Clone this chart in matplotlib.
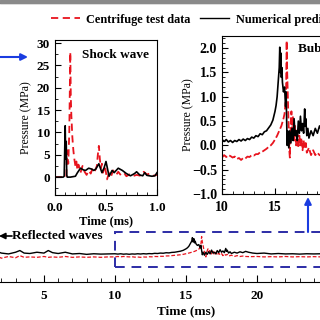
import matplotlib
matplotlib.use("Agg")
import matplotlib.pyplot as plt
from matplotlib.patches import Rectangle
from matplotlib.ticker import MultipleLocator

plt.rcParams['font.family'] = ['Liberation Serif', 'DejaVu Serif']
plt.rcParams['font.weight'] = 'bold'

# ---------------- data ----------------
# Shock wave (0-1 ms)
shock_t_num = [0.0, 0.08, 0.09, 0.10, 0.105, 0.11, 0.115, 0.12, 0.15, 0.2, 0.22, 0.25, 0.28, 0.3, 0.33,
               0.36, 0.38, 0.4, 0.43, 0.46, 0.48, 0.5, 0.53, 0.56, 0.58, 0.62, 0.66, 0.7, 0.74, 0.78,
               0.8, 0.83, 0.86, 0.88, 0.9, 0.95, 0.98, 1.0]
shock_num = [0.0, 0.0, 0.2, 11.5, 4.0, 8.0, 0.5, 0.0, 0.0, 0.2, 1.0, 2.0, 1.6, 1.5, 2.0,
             1.8, 1.5, 1.8, 3.0, 1.0, 2.0, 3.5, 0.2, 1.5, 1.0, 2.0, 1.5, 0.8, 0.3, 0.8,
             1.2, 0.5, 0.3, 1.0, 0.4, 0.2, 0.3, 1.0]
shock_t_test = [0.0, 0.11, 0.12, 0.13, 0.14, 0.15, 0.155, 0.16, 0.17, 0.18, 0.19, 0.2, 0.21, 0.22,
                0.23, 0.25, 0.27, 0.29, 0.31, 0.33, 0.35, 0.37, 0.39, 0.41, 0.42, 0.43, 0.44, 0.45,
                0.46, 0.47, 0.49, 0.51, 0.53, 0.55, 0.57, 0.6, 0.62, 0.65, 0.68, 0.7, 0.73, 0.76,
                0.8, 0.84, 0.87, 0.9, 0.93, 0.96, 1.0]
shock_test = [0.0, 0.0, 6.0, 3.0, 10.0, 28.0, 18.0, 14.0, 9.0, 6.0, 4.0, 2.5, 3.5, 1.5,
              2.8, 1.0, 2.5, 1.2, 0.5, 1.5, 0.8, 2.0, 1.3, 2.5, 5.0, 7.0, 4.0, 2.0,
              3.0, 1.0, 2.5, -0.5, 1.0, 0.2, 1.5, 0.5, 1.2, 0.3, 0.8, 0.2, 0.6, 0.2,
              0.5, 0.3, 1.2, 0.6, 0.8, 0.3, 0.5]

# Reflected waves (1-10 ms)
refl_t = [1.0, 1.5, 2.0, 2.5, 3.0, 3.3, 3.6, 4.0, 4.5, 5.0, 5.3, 5.6, 6.0, 6.5, 7.0, 7.5, 8.0, 8.5, 9.0, 9.5]
refl_num = [0.8, 0.5, 0.2, 0.1, 0.3, 0.5, 0.2, 0.15, 0.3, 0.2, 0.5, 0.25, 0.15, 0.3, 0.1, 0.15, 0.05, 0.12, 0.08, 0.1]
refl_test = [0.5, 0.0, -0.4, -0.2, -0.35, -0.1, -0.3, -0.25, -0.3, -0.2, -0.3, -0.25, -0.3, -0.2, -0.3,
             -0.25, -0.3, -0.25, -0.3, -0.25]

# Bubble pulse (10-25 ms)
bub_t_num = [10.0, 10.2, 10.4, 10.6, 10.8, 11.0, 11.2, 11.4, 11.6, 11.8, 12.0, 12.2, 12.4, 12.6, 12.8,
             13.0, 13.2, 13.4, 13.6, 13.8, 14.0, 14.2, 14.4, 14.6, 14.8, 15.0, 15.1, 15.2, 15.3, 15.4,
             15.45, 15.5, 15.55, 15.6, 15.65, 15.7, 15.8, 15.9, 16.0, 16.05, 16.1, 16.15, 16.2, 16.3,
             16.4, 16.5, 16.6, 16.7, 16.8, 16.9, 17.0, 17.1, 17.2, 17.3, 17.4, 17.5, 17.6, 17.7, 17.8,
             17.85, 17.9, 18.0, 18.1, 18.2, 18.4, 18.6, 18.8, 19.0, 19.2, 19.4, 19.7, 20.0, 20.5, 21.0,
             21.5, 22.0, 22.5, 23.0, 23.5, 24.0, 24.5, 25.0]
bub_num = [0.12, 0.08, 0.12, 0.07, 0.1, 0.06, 0.1, 0.08, 0.12, 0.09, 0.13, 0.1, 0.14, 0.12, 0.17,
           0.15, 0.2, 0.18, 0.24, 0.22, 0.28, 0.3, 0.36, 0.42, 0.52, 0.7, 0.82, 1.0, 1.3, 1.6,
           2.02, 1.5, 1.9, 1.4, 1.6, 1.3, 1.1, 1.2, 0.8, 1.1, 0.5, 0.0, 0.3, -0.05,
           0.3, 0.05, 0.35, 0.1, 0.55, 0.2, 0.3, 0.1, 0.5, 0.25, 0.6, 0.3, 0.45, 0.25, 0.75,
           0.4, 0.55, 0.2, 0.35, 0.15, 0.3, 0.2, 0.35, 0.25, 0.4, 0.3, 0.2, 0.15, 0.2, 0.1,
           0.15, 0.1, 0.12, 0.08, 0.12, 0.1, 0.12, 0.1]
bub_t_test = [10.0, 10.2, 10.4, 10.6, 10.8, 11.0, 11.2, 11.4, 11.6, 11.8, 12.0, 12.2, 12.4, 12.6, 12.8,
              13.0, 13.2, 13.4, 13.6, 13.8, 14.0, 14.2, 14.4, 14.6, 14.8, 15.0, 15.2, 15.4, 15.6, 15.8,
              15.9, 16.0, 16.05, 16.1, 16.15, 16.2, 16.25, 16.3, 16.35, 16.4, 16.45, 16.5, 16.55, 16.6,
              16.7, 16.8, 16.9, 17.0, 17.1, 17.2, 17.3, 17.4, 17.5, 17.6, 17.7, 17.8, 17.9, 18.0, 18.2,
              18.4, 18.6, 18.8, 19.0, 19.2, 19.5, 20.0, 20.5, 21.0, 21.5, 22.0, 22.5, 23.0, 23.5, 24.0,
              24.5, 25.0]
bub_test = [-0.25, -0.2, -0.24, -0.2, -0.22, -0.25, -0.23, -0.28, -0.26, -0.3, -0.26, -0.27, -0.23, -0.24, -0.2,
            -0.21, -0.18, -0.18, -0.14, -0.13, -0.1, -0.07, -0.03, 0.0, 0.05, 0.12, 0.2, 0.3, 0.4, 0.55,
            0.65, 0.9, 1.2, 2.15, 1.5, 1.1, 0.7, 0.3, -0.1, -0.25, 0.2, 0.5, 0.7, 0.3,
            0.6, 0.1, 0.4, 0.0, 0.3, -0.05, 0.2, 0.0, 0.15, -0.1, 0.1, -0.05, 0.05, -0.15, -0.05,
            -0.2, -0.1, -0.2, -0.15, -0.2, -0.22, -0.2, -0.25, -0.22, -0.25, -0.2, -0.25, -0.22, -0.25, -0.22,
            -0.25, -0.22]

legend_labels = ["Centrifuge test data", "Numerical prediction"]
RED = '#e8141e'
BLUE_RECT = '#2c2ca6'
BLUE_ARROW = '#1a3ce0'

W = H = 320.0
def fx(px):
    return px / W
def fy(py):
    return 1 - py / H

fig = plt.figure(figsize=(3.2, 3.2), dpi=100)

# gray band at very top
fig.patches.append(Rectangle((0, fy(2.5)), 1, 2.5 / H, transform=fig.transFigure,
                             color='#8a8a8a', zorder=0))

# ---------------- main axes ----------------
ax = fig.add_axes([fx(-27), fy(282), 426 / W, (282 - 3) / H])
main_t_num = shock_t_num + refl_t + bub_t_num + [27.0, 30.0]
main_num = shock_num + refl_num + bub_num + [0.1, 0.1]
main_t_test = shock_t_test + refl_t + bub_t_test + [27.0, 30.0]
main_test = shock_test + refl_test + bub_test + [-0.22, -0.22]
ax.plot(main_t_num, main_num, color='black', lw=1.0, zorder=3)
ax.plot(main_t_test, main_test, color=RED, lw=0.9, ls=(0, (3, 1.5)), zorder=2)
ax.set_xlim(0, 30)
ax.set_ylim(-3.2, 29.6)
ax.xaxis.set_major_locator(MultipleLocator(5))
ax.xaxis.set_minor_locator(MultipleLocator(1))
ax.tick_params(axis='both', which='both', direction='in', labelsize=9.5)
ax.tick_params(axis='x', which='major', length=5, pad=6)
ax.tick_params(axis='x', which='minor', length=3)
ax.set_xlabel('Time (ms)', fontsize=9.5, fontweight='bold', labelpad=2)
ax.add_patch(Rectangle((10, -1.41), 25, 4.1, fill=False, edgecolor=BLUE_RECT,
                       lw=1.4, ls=(0, (5, 3.5)), zorder=4))

# ---------------- shock wave inset ----------------
ax1 = fig.add_axes([fx(55), fy(195), 102 / W, 155 / H])
ax1.plot(shock_t_num, shock_num, color='black', lw=1.2, zorder=3)
ax1.plot(shock_t_test, shock_test, color=RED, lw=1.3, ls=(0, (4, 2.5)), zorder=2)
ax1.set_xlim(0, 1.0)
ax1.set_ylim(-4, 30.7)
ax1.xaxis.set_major_locator(MultipleLocator(0.5))
ax1.xaxis.set_minor_locator(MultipleLocator(0.1))
ax1.yaxis.set_major_locator(MultipleLocator(5))
ax1.yaxis.set_minor_locator(MultipleLocator(2.5))
ax1.tick_params(axis='both', which='both', direction='in', labelsize=9.5)
ax1.tick_params(which='major', length=4)
ax1.tick_params(which='minor', length=2)
ax1.tick_params(axis='x', pad=5)
ax1.set_xlabel('Time (ms)', fontsize=9, fontweight='bold', labelpad=1)
ax1.set_ylabel('Pressure (MPa)', fontsize=8.5, fontweight='normal', labelpad=3)
ax1.text(0.26, 0.9, 'Shock wave', transform=ax1.transAxes, fontsize=9.5,
         fontweight='bold', va='center', ha='left')

# ---------------- bubble inset ----------------
ax2 = fig.add_axes([fx(222), fy(194), 159 / W, 158 / H])
ax2.plot(bub_t_num, bub_num, color='black', lw=1.2, zorder=3)
ax2.plot(bub_t_test, bub_test, color=RED, lw=1.3, ls=(0, (4, 1.5)), zorder=2)
ax2.set_xlim(10, 25)
ax2.set_ylim(-1, 2.25)
ax2.xaxis.set_major_locator(MultipleLocator(5))
ax2.xaxis.set_minor_locator(MultipleLocator(1))
ax2.yaxis.set_major_locator(MultipleLocator(0.5))
ax2.yaxis.set_minor_locator(MultipleLocator(0.1))
ax2.tick_params(axis='both', which='both', direction='in', labelsize=10)
ax2.tick_params(which='major', length=4)
ax2.tick_params(which='minor', length=2)
ax2.tick_params(axis='x', pad=5)
ax2.set_ylabel('Pressure (MPa)', fontsize=8.5, fontweight='normal', labelpad=-2)
ax2.text(0.48, 0.92, 'Bubble pulse', transform=ax2.transAxes, fontsize=9.5,
         fontweight='bold', va='center', ha='left')

for a in (ax, ax1, ax2):
    for lab in a.get_xticklabels() + a.get_yticklabels():
        lab.set_fontweight('bold')

# ---------------- legend ----------------
h_test, = ax.plot([], [], color=RED, lw=1.3, ls=(0, (4, 2.5)))
h_num, = ax.plot([], [], color='black', lw=1.0)
fig.legend([h_test, h_num], legend_labels, loc='upper left', ncol=2,
           bbox_to_anchor=(fx(42), fy(5)), frameon=False, borderpad=0.2,
           handlelength=2.4, handletextpad=0.5, columnspacing=0.8,
           prop={'family': 'Liberation Serif', 'weight': 'bold', 'size': 8.8})

# ---------------- annotations ----------------
fig.add_artist(plt.Annotation('', xy=(fx(28), fy(57)), xytext=(fx(-2), fy(57)),
                              xycoords='figure fraction', textcoords='figure fraction',
                              arrowprops=dict(arrowstyle='-|>', color=BLUE_ARROW, lw=1.5,
                                              mutation_scale=10, shrinkA=0, shrinkB=0)))
fig.add_artist(plt.Annotation('', xy=(fx(308), fy(197)), xytext=(fx(308), fy(232)),
                              xycoords='figure fraction', textcoords='figure fraction',
                              arrowprops=dict(arrowstyle='-|>', color=BLUE_ARROW, lw=1.5,
                                              mutation_scale=10, shrinkA=0, shrinkB=0)))
fig.add_artist(plt.Annotation('', xy=(fx(-1), fy(236)), xytext=(fx(12), fy(236)),
                              xycoords='figure fraction', textcoords='figure fraction',
                              arrowprops=dict(arrowstyle='-|>', color='black', lw=1.2,
                                              mutation_scale=9, shrinkA=0, shrinkB=0)))
fig.text(fx(12), fy(236), 'Reflected waves', fontsize=9.5, fontweight='bold',
         ha='left', va='center')

fig.savefig('out.png', dpi=100)
